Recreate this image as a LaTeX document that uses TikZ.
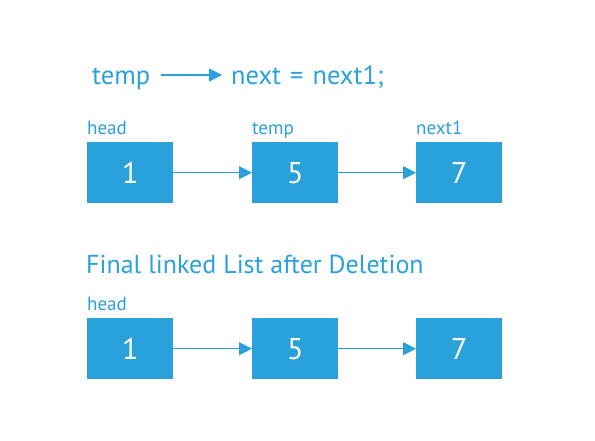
\documentclass[tikz,border=0pt]{standalone}
\usepackage{fontspec}
\setmainfont{PT Sans}
\usetikzlibrary{arrows.meta}
\definecolor{lblue}{RGB}{43,161,219}
\begin{document}
\begin{tikzpicture}[x=1pt,y=-1pt,
  cell/.style={fill=lblue,draw=none,minimum width=86pt,minimum height=61pt,inner sep=0pt,
     text=white,font=\fontsize{30}{30}\selectfont,anchor=north west},
  lbl/.style={text=lblue,font=\fontsize{19}{19}\selectfont,anchor=base west,inner sep=0pt},
  big/.style={lbl,font=\fontsize{26.5}{26.5}\selectfont},
  link/.style={draw=lblue,line width=1.3pt,-{Triangle[length=13pt,width=13pt]}}]
\useasboundingbox (0,0) rectangle (595,440);
% top expression
\node[big] (t1) at (92,84) {temp};
\node[big] (t2) at (231,84) {next\hspace{9pt}=\hspace{9pt}next1;};
\coordinate (aS) at (161,75);
\coordinate (aE) at (222,75);
\draw[link] (aS) -- (aE);
% first list
\node[cell] (a1) at (87,142) {1};
\node[cell] (a2) at (252,142) {5};
\node[cell] (a3) at (416,142) {7};
\node[lbl] (h1) at (87,134) {head};
\node[lbl] (h2) at (252,134) {temp};
\node[lbl] (h3) at (416,134) {next1};
\draw[link] (a1) -- (a2);
\draw[link] (a2) -- (a3);
% title
\node[lbl,font=\fontsize{26}{26}\selectfont] (ttl) at (86,273) {Final linked List after Deletion};
% second list
\node[cell] (b1) at (87,318) {1};
\node[cell] (b2) at (252,318) {5};
\node[cell] (b3) at (416,318) {7};
\node[lbl] (h4) at (87,310) {head};
\draw[link] (b1) -- (b2);
\draw[link] (b2) -- (b3);
\end{tikzpicture}
\end{document}
